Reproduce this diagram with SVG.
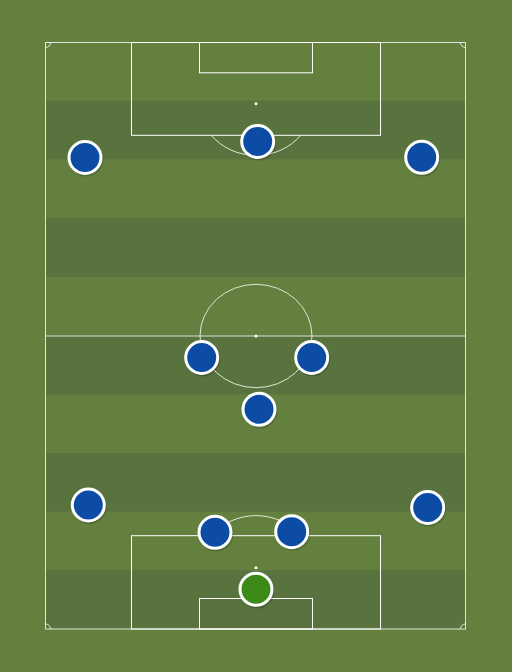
<svg xmlns="http://www.w3.org/2000/svg" width="512" height="672" viewBox="0 0 512 672">
<style>
.line{fill:none;stroke:#ffffff;stroke-width:1}
.outer{fill:none;stroke:#ffffff;stroke-opacity:0.8;stroke-width:1}
.stripe{fill:#58733e}
.spot{fill:#ffffff}
.player circle.p{stroke:#ffffff;stroke-width:3}
.blue{fill:#0d4ca4}
.gk{fill:#3c8a18}
.shadow{fill:#000000;opacity:0.18}
</style>
<rect x="0" y="0" width="512" height="672" fill="#63803f"/>
<g id="stripes">
<rect class="stripe" x="46" y="100.7" width="419.5" height="58.7"/>
<rect class="stripe" x="46" y="218.1" width="419.5" height="58.7"/>
<rect class="stripe" x="46" y="335.5" width="419.5" height="58.7"/>
<rect class="stripe" x="46" y="452.9" width="419.5" height="58.7"/>
<rect class="stripe" x="46" y="570.3" width="419.5" height="58.7"/>
</g>
<g id="pitch-lines">
<rect class="outer" x="45.5" y="42.5" width="420" height="586.5"/>
<line class="outer" x1="45.5" y1="336" x2="465.5" y2="336"/>
<ellipse class="outer" cx="256" cy="336" rx="56" ry="51.7"/>
<circle class="spot" cx="256" cy="336" r="1.5"/>
<rect class="line" x="131.5" y="42.5" width="249" height="92.8"/>
<rect class="line" x="199.5" y="42.5" width="113" height="30.3"/>
<circle class="spot" cx="256" cy="103.7" r="1.5"/>
<path class="outer" d="M211.3 135.3 A56.5 51.7 0 0 0 300.7 135.3"/>
<rect class="line" x="131.5" y="535.7" width="249" height="93.3"/>
<rect class="line" x="199.5" y="598.5" width="113" height="30.5"/>
<circle class="spot" cx="256" cy="567.7" r="1.5"/>
<path class="outer" d="M211.3 535.7 A56.5 51.7 0 0 1 300.7 535.7"/>
<path class="outer" d="M45.5 47.5 A5 5 0 0 0 50.5 42.5"/>
<path class="outer" d="M460.5 42.5 A5 5 0 0 0 465.5 47.5"/>
<path class="outer" d="M45.5 624 A5 5 0 0 1 50.5 629"/>
<path class="outer" d="M460.5 629 A5 5 0 0 1 465.5 624"/>
</g>
<g id="players">
<g id="p1" class="player"><circle class="shadow" cx="86" cy="159" r="17.5"/><circle class="p blue" cx="85" cy="157.5" r="16"/></g>
<g id="p2" class="player"><circle class="shadow" cx="258.7" cy="143" r="17.5"/><circle class="p blue" cx="257.7" cy="141.5" r="16"/></g>
<g id="p3" class="player"><circle class="shadow" cx="422.7" cy="159" r="17.5"/><circle class="p blue" cx="421.7" cy="157.3" r="16"/></g>
<g id="p4" class="player"><circle class="shadow" cx="202.7" cy="359" r="17.5"/><circle class="p blue" cx="201.7" cy="357.5" r="16"/></g>
<g id="p5" class="player"><circle class="shadow" cx="312.7" cy="359" r="17.5"/><circle class="p blue" cx="311.7" cy="357.5" r="16"/></g>
<g id="p6" class="player"><circle class="shadow" cx="260" cy="411" r="17.5"/><circle class="p blue" cx="259" cy="409.3" r="16"/></g>
<g id="p7" class="player"><circle class="shadow" cx="89.3" cy="506.5" r="17.5"/><circle class="p blue" cx="88.3" cy="505" r="16"/></g>
<g id="p8" class="player"><circle class="shadow" cx="428.7" cy="509" r="17.5"/><circle class="p blue" cx="427.7" cy="507.5" r="16"/></g>
<g id="p9" class="player"><circle class="shadow" cx="216" cy="534" r="17.5"/><circle class="p blue" cx="215" cy="532.3" r="16"/></g>
<g id="p10" class="player"><circle class="shadow" cx="292.7" cy="533" r="17.5"/><circle class="p blue" cx="291.7" cy="531.7" r="16"/></g>
<g id="gk" class="player"><circle class="shadow" cx="257" cy="591" r="17.5"/><circle class="p gk" cx="256" cy="589.3" r="16"/></g>
</g>
</svg>
